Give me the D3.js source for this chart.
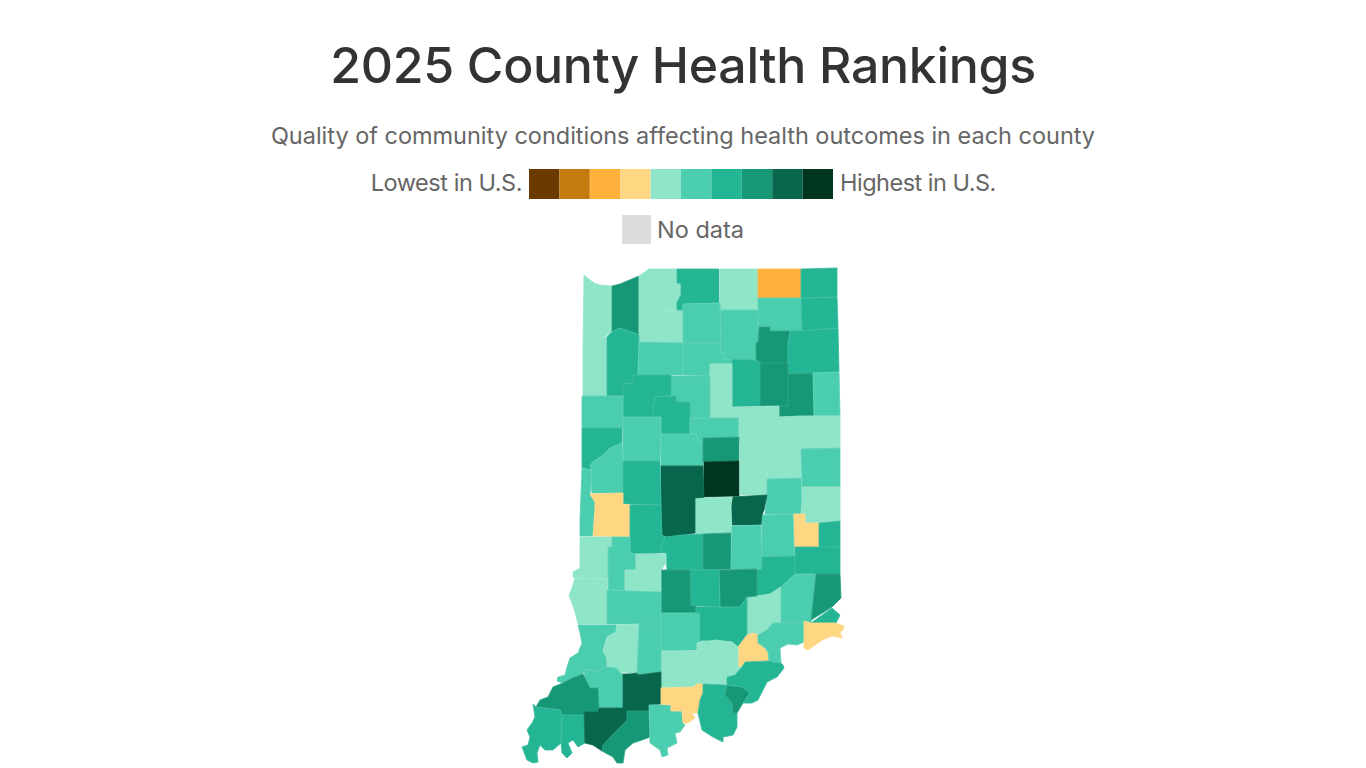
<!DOCTYPE html>
<html>
<head>
<meta charset="utf-8">
<title>2025 County Health Rankings</title>
<script src="https://cdn.jsdelivr.net/npm/d3@7"></script>
<style>
  html, body { margin: 0; background: #fff; overflow: hidden; }
  text { font-family: Inter, "Noto Sans", sans-serif; }
</style>
</head>
<body>
<svg id="chart"></svg>
<script>
// ===== data =====
const titleText = "2025 County Health Rankings";
const subtitleText = "Quality of community conditions affecting health outcomes in each county";
const lowLabel = "Lowest in U.S.";
const highLabel = "Highest in U.S.";
const noDataLabel = "No data";

const palette = ["#6b3a00", "#c47a0c", "#ffb13b", "#ffd682", "#8fe5c8",
                 "#4bcdb0", "#24b595", "#169876", "#07664b", "#00361f"];
const noDataColor = "#dcdcdc";

const countyNames = [
  "Lake", "Porter", "LaPorte", "Starke", "St. Joseph", "Elkhart", "LaGrange", "Steuben",
  "Noble", "DeKalb", "Marshall", "Kosciusko", "Whitley", "Allen", "Newton", "Jasper",
  "Pulaski", "Fulton", "Wabash", "Huntington", "Wells", "Adams", "Miami", "Cass",
  "White", "Carroll", "Benton", "Tippecanoe", "Howard", "Grant", "Blackford", "Jay",
  "Warren", "Fountain", "Vermillion", "Clinton", "Tipton", "Hamilton", "Madison", "Delaware",
  "Randolph", "Henry", "Wayne", "Fayette", "Union", "Franklin", "Rush", "Hancock",
  "Marion", "Boone", "Hendricks", "Montgomery", "Parke", "Putnam", "Morgan", "Johnson",
  "Shelby", "Decatur", "Jennings", "Bartholomew", "Brown", "Monroe", "Vigo", "Clay",
  "Owen", "Sullivan", "Greene", "Lawrence", "Jackson", "Scott", "Jefferson", "Ripley",
  "Dearborn", "Ohio", "Switzerland", "Washington", "Orange", "Knox", "Daviess", "Martin",
  "Pike", "Dubois", "Gibson", "Posey", "Vanderburgh", "Warrick", "Spencer", "Perry",
  "Crawford", "Harrison", "Floyd", "Clark"
];

// rank bucket per county, 0 = lowest .. 9 = highest, same order as countyNames
const countyLevels = [
  4, 7, 4, 4, 6, 4, 2, 6,
  5, 6, 5, 5, 7, 6, 4, 6,
  5, 5, 6, 7, 7, 5, 4, 5,
  6, 6, 5, 5, 5, 4, 4, 4,
  6, 5, 5, 5, 7, 9, 4, 4,
  5, 5, 4, 3, 6, 6, 5, 8,
  4, 8, 8, 6, 3, 6, 6, 7,
  5, 6, 4, 7, 6, 7, 4, 5,
  4, 4, 5, 5, 6, 3, 5, 5,
  7, 6, 3, 4, 4, 5, 4, 5,
  5, 8, 7, 6, 6, 8, 7, 5,
  3, 6, 7, 6
];

// county outlines, same order as countyNames
const countyShapes = [
  [[584,275],[590,280],[594,283],[600,285],[612,286],[612,332],[603,338],[593,342],[583,342]],
  [[612,286],[620,284],[639,276],[639,335],[632,332],[620,328],[612,332]],
  [[639,276],[649,269],[677,269],[677,283],[681,284],[681,295],[677,302],[677,310],[665,311],[660,315],[657,325],[648,330],[639,335]],
  [[665,311],[677,310],[683,310],[683,343],[639,342],[639,335],[648,330],[657,325],[660,315]],
  [[677,269],[719,269],[719,303],[683,304],[683,310],[677,310],[677,302],[681,295],[681,284],[677,283]],
  [[720,269],[758,269],[758,310],[720,310]],
  [[758,269],[801,269],[801,298],[758,298]],
  [[801,269],[837,268],[837,297],[801,298]],
  [[758,298],[801,298],[802,331],[770,331],[770,327],[758,327]],
  [[801,298],[837,297],[838,328],[802,331]],
  [[683,304],[720,303],[721,343],[683,343]],
  [[720,310],[758,310],[758,342],[756,343],[756,360],[732,359],[725,359],[725,353],[720,352],[721,343]],
  [[759,327],[770,327],[770,331],[790,331],[790,340],[788,342],[788,363],[760,363],[756,360],[756,343],[758,342]],
  [[790,331],[838,328],[839,372],[813,373],[788,374],[788,342]],
  [[583,342],[593,342],[603,338],[607,337],[607,396],[583,396]],
  [[607,337],[612,332],[620,328],[632,332],[639,335],[638,375],[633,375],[633,383],[623,384],[623,396],[607,396]],
  [[639,342],[683,343],[683,375],[638,375]],
  [[683,343],[721,343],[720,352],[725,353],[725,359],[732,359],[732,364],[710,364],[710,376],[683,375]],
  [[732,359],[756,360],[760,363],[760,406],[732,407]],
  [[760,363],[788,363],[788,406],[760,406]],
  [[788,374],[813,373],[814,416],[779,417],[779,406],[788,406]],
  [[813,373],[839,372],[840,416],[814,416]],
  [[710,364],[732,364],[732,407],[739,407],[739,418],[710,418]],
  [[671,376],[710,376],[710,418],[690,418],[690,402],[677,402],[676,396],[671,396]],
  [[633,375],[671,375],[671,396],[655,397],[655,402],[653,406],[653,417],[623,417],[623,384],[633,383]],
  [[655,397],[676,396],[677,402],[690,402],[690,434],[661,434],[661,417],[653,417],[653,406]],
  [[582,396],[623,396],[623,428],[582,428]],
  [[623,417],[661,417],[661,434],[660,461],[623,461]],
  [[690,418],[739,418],[739,437],[703,438],[703,441],[699,441],[696,434],[690,434]],
  [[739,407],[779,406],[779,441],[739,442]],
  [[779,417],[801,416],[801,441],[779,441]],
  [[801,416],[840,416],[840,448],[801,450]],
  [[582,428],[622,428],[622,443],[610,448],[603,455],[593,462],[590,465],[592,470],[582,468]],
  [[622,443],[623,461],[623,493],[592,493],[591,483],[592,470],[590,465],[593,462],[603,455],[610,448]],
  [[582,468],[592,470],[591,483],[590,495],[595,502],[595,508],[593,536],[580,536],[580,520]],
  [[661,434],[696,434],[699,441],[703,441],[703,466],[661,466]],
  [[703,438],[739,437],[739,461],[703,462]],
  [[704,462],[739,461],[739,496],[704,497]],
  [[740,442],[767,441],[767,495],[740,495]],
  [[767,441],[801,441],[801,478],[767,479]],
  [[801,449],[840,448],[840,487],[802,487]],
  [[767,479],[801,478],[802,503],[801,514],[765,514],[767,495]],
  [[802,487],[840,487],[840,521],[819,523],[805,523],[805,514],[801,514],[802,503]],
  [[793,514],[805,514],[805,523],[819,523],[819,547],[794,547]],
  [[819,523],[840,521],[840,547],[819,547]],
  [[795,547],[840,547],[840,574],[795,575]],
  [[762,515],[793,514],[794,547],[795,556],[762,557]],
  [[733,497],[767,495],[764,510],[762,515],[761,525],[732,525],[731,506]],
  [[695,498],[732,497],[731,506],[732,534],[703,534],[695,534]],
  [[661,466],[703,466],[704,497],[661,499]],
  [[661,499],[704,497],[695,498],[695,533],[682,535],[667,537],[662,535]],
  [[623,461],[660,461],[661,505],[623,504]],
  [[590,494],[623,493],[623,504],[630,505],[630,537],[593,536],[595,508],[595,502]],
  [[630,505],[661,505],[662,535],[665,537],[661,548],[661,553],[636,554],[630,553]],
  [[665,537],[682,535],[703,534],[703,570],[667,570],[666,553],[661,553],[661,548]],
  [[703,534],[731,533],[731,569],[703,570]],
  [[732,526],[761,525],[762,557],[762,569],[731,569]],
  [[762,557],[795,556],[795,575],[781,587],[770,594],[757,596],[757,570],[762,569]],
  [[747,597],[757,596],[770,594],[781,587],[781,623],[773,623],[767,630],[758,635],[747,635]],
  [[719,570],[757,569],[757,596],[747,597],[740,607],[720,607]],
  [[690,570],[719,570],[720,607],[696,606],[691,606]],
  [[661,570],[690,570],[691,606],[696,606],[696,613],[661,613]],
  [[580,537],[612,537],[612,547],[608,547],[608,579],[576,578],[573,577],[573,572],[580,568]],
  [[612,537],[630,537],[630,553],[636,554],[636,570],[625,570],[625,590],[608,590],[608,547],[612,547]],
  [[636,554],[666,554],[666,563],[661,570],[661,592],[625,590],[625,570],[636,570]],
  [[575,578],[608,579],[607,624],[578,624],[575,612],[569,595],[572,588]],
  [[607,590],[661,592],[661,624],[607,624]],
  [[661,613],[700,613],[700,650],[661,651]],
  [[696,607],[720,607],[740,607],[747,597],[747,635],[738,647],[732,642],[723,641],[715,640],[710,641],[702,641],[700,643],[700,613],[696,613]],
  [[747,635],[753,633],[758,635],[758,643],[765,648],[768,652],[769,661],[745,662],[742,667],[738,667],[738,647]],
  [[773,623],[804,622],[804,642],[797,645],[788,644],[780,648],[781,663],[773,662],[769,661],[768,652],[765,648],[758,643],[758,635],[767,630]],
  [[781,587],[795,574],[816,574],[811,623],[781,623]],
  [[816,574],[840,574],[841,598],[832,607],[811,620]],
  [[811,623],[832,608],[840,615],[836,623]],
  [[804,621],[811,623],[835,623],[844,626],[843,630],[840,632],[842,638],[832,636],[822,640],[808,650],[804,648]],
  [[697,643],[702,641],[710,641],[715,640],[723,641],[732,642],[738,647],[738,667],[742,667],[735,675],[727,677],[727,684],[703,684],[697,684]],
  [[661,651],[697,651],[697,684],[693,687],[661,688]],
  [[578,625],[617,625],[616,632],[607,637],[603,651],[607,658],[607,667],[602,668],[597,672],[590,669],[584,670],[583,674],[572,678],[563,683],[557,681],[558,677],[565,675],[567,667],[570,658],[578,653],[582,643],[580,633]],
  [[617,625],[639,624],[637,673],[630,674],[625,672],[620,673],[617,668],[607,667],[607,658],[603,651],[607,637],[616,632]],
  [[639,624],[661,624],[661,672],[638,675],[637,673]],
  [[584,670],[590,669],[597,672],[602,668],[607,667],[617,668],[620,673],[623,674],[623,708],[599,708],[598,688],[590,688],[585,678]],
  [[623,674],[630,674],[637,673],[638,675],[661,672],[661,704],[649,705],[649,711],[623,711]],
  [[583,674],[585,678],[590,688],[598,688],[599,708],[598,712],[584,712],[584,715],[562,715],[560,710],[536,707],[540,700],[548,697],[553,687],[563,683],[572,678]],
  [[533,704],[536,707],[560,710],[562,715],[561,743],[553,750],[545,750],[540,745],[537,753],[538,762],[533,763],[527,760],[522,747],[528,745],[530,737],[527,730],[532,723],[535,717]],
  [[562,715],[584,715],[585,743],[578,747],[573,740],[568,743],[572,753],[567,758],[562,753],[561,743]],
  [[584,712],[598,712],[599,708],[623,708],[623,711],[627,711],[627,720],[617,730],[603,745],[602,751],[593,745],[585,743]],
  [[627,711],[649,711],[650,737],[642,740],[633,743],[625,750],[623,763],[617,763],[613,757],[602,751],[603,745],[617,730],[627,720]],
  [[649,705],[671,705],[671,711],[682,711],[683,723],[685,725],[680,732],[675,733],[677,743],[667,748],[668,755],[662,757],[660,750],[650,743],[650,737]],
  [[661,688],[693,687],[697,684],[703,684],[703,693],[700,700],[698,713],[692,713],[695,718],[688,723],[683,723],[682,711],[671,711],[671,705],[661,704]],
  [[703,684],[727,685],[725,695],[732,703],[733,713],[737,713],[737,727],[733,735],[723,737],[723,742],[713,737],[702,730],[698,713],[700,700],[703,693]],
  [[727,685],[743,687],[750,693],[743,703],[737,713],[733,713],[732,703],[725,695]],
  [[727,677],[735,675],[742,667],[745,662],[769,661],[773,662],[781,663],[783,665],[784,668],[777,677],[767,682],[762,692],[758,700],[752,703],[743,703],[750,693],[743,687],[727,685]]
];

// ===== layout =====
const width = 1366;
const height = 768;
const centerX = 683;

const svg = d3.select("#chart")
  .attr("width", width)
  .attr("height", height)
  .attr("viewBox", [0, 0, width, height])
  .style("display", "block");

// ===== titles =====
svg.append("text")
  .attr("x", centerX).attr("y", 83)
  .attr("text-anchor", "middle")
  .attr("font-size", 50)
  .attr("font-weight", 450)
  .attr("letter-spacing", -0.3)
  .attr("fill", "#333333")
  .text(titleText);

svg.append("text")
  .attr("x", centerX).attr("y", 144)
  .attr("text-anchor", "middle")
  .attr("font-size", 23.5)
  .attr("letter-spacing", -0.02)
  .attr("fill", "#666666")
  .text(subtitleText);

// ===== legend =====
const legendX = d3.scaleBand()
  .domain(d3.range(palette.length))
  .range([529, 833]);

svg.append("g")
  .selectAll("rect")
  .data(palette)
  .join("rect")
  .attr("x", (d, i) => legendX(i))
  .attr("y", 169)
  .attr("width", legendX.bandwidth())
  .attr("height", 30)
  .attr("fill", (d) => d);

svg.append("text")
  .attr("x", 522).attr("y", 191)
  .attr("text-anchor", "end")
  .attr("font-size", 23.5)
  .attr("letter-spacing", -0.45)
  .attr("fill", "#666666")
  .text(lowLabel);

svg.append("text")
  .attr("x", 840).attr("y", 191)
  .attr("font-size", 23.5)
  .attr("letter-spacing", -0.5)
  .attr("fill", "#666666")
  .text(highLabel);

svg.append("rect")
  .attr("x", 622).attr("y", 215)
  .attr("width", 29).attr("height", 29)
  .attr("fill", noDataColor);

svg.append("text")
  .attr("x", 657).attr("y", 238)
  .attr("font-size", 23.5)
  .attr("fill", "#666666")
  .text(noDataLabel);

// ===== map =====
const counties = {
  type: "FeatureCollection",
  features: countyShapes.map((ring, i) => ({
    type: "Feature",
    properties: { name: countyNames[i], level: countyLevels[i] },
    geometry: { type: "Polygon", coordinates: [[...ring, ring[0]]] }
  }))
};

const projection = d3.geoIdentity().fitExtent([[522, 268], [844, 763]], counties);
const path = d3.geoPath(projection);

const countyGroup = svg.append("g").attr("class", "counties");

// own-colour stroke closes the hairline gaps between traced outlines
countyGroup.selectAll("path.fill")
  .data(counties.features)
  .join("path")
  .attr("class", "fill")
  .attr("d", path)
  .attr("fill", (d) => palette[d.properties.level])
  .attr("stroke", (d) => palette[d.properties.level])
  .attr("stroke-width", 0.8)
  .attr("stroke-linejoin", "round");

// faint county borders on top, the darkest counties show none
countyGroup.selectAll("path.border")
  .data(counties.features.filter((d) => d.properties.level < 8))
  .join("path")
  .attr("class", "border")
  .attr("d", path)
  .attr("fill", "none")
  .attr("stroke", "#ffffff")
  .attr("stroke-opacity", 0.14)
  .attr("stroke-width", 0.5)
  .attr("stroke-linejoin", "round");
</script>
</body>
</html>
